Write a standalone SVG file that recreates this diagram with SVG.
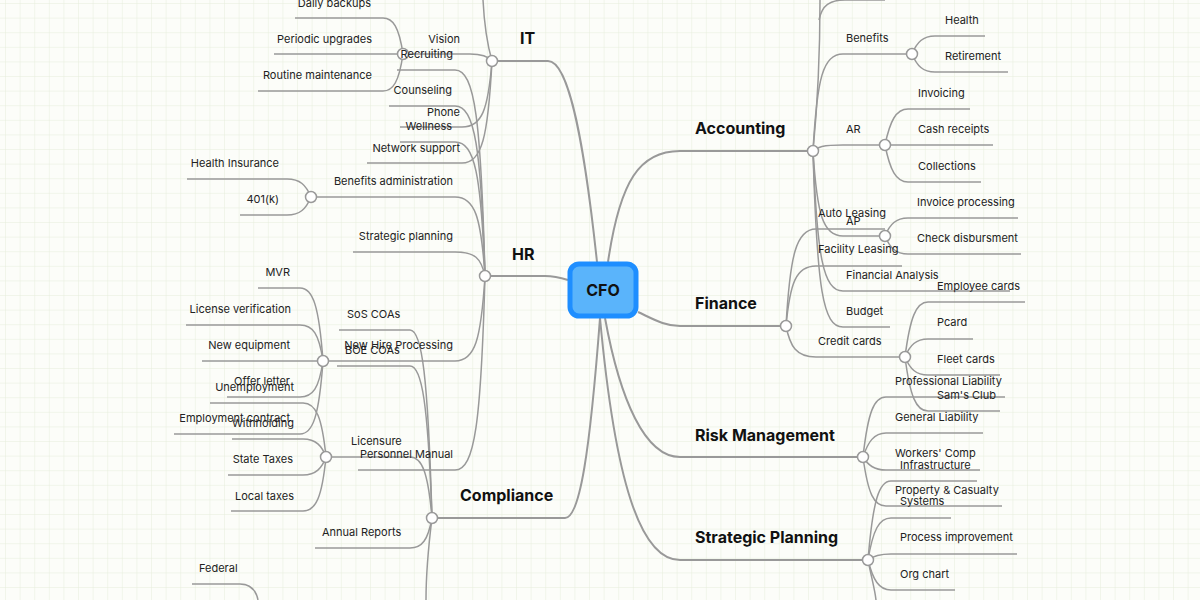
<svg xmlns="http://www.w3.org/2000/svg" width="1200" height="600" viewBox="0 0 1200 600">
<defs>
<pattern id="grid" width="14.6" height="14.6" patternUnits="userSpaceOnUse" x="6" y="4">
<path d="M14.6 0 V14.6 M0 14.6 H14.6" fill="none" stroke="#e6eddc" stroke-width="1"/>
</pattern>
</defs>
<style>
.c{fill:none;stroke:#999;stroke-width:1.5}
.m{fill:none;stroke:#999;stroke-width:2}
.n{fill:#fff;stroke:#999;stroke-width:1.5}
.t{font-family:Inter,"Liberation Sans",sans-serif;font-size:11px;fill:#222;dominant-baseline:central}
.r{text-anchor:end}
.b{font-family:Inter,"Liberation Sans",sans-serif;font-size:16px;font-weight:bold;fill:#111;dominant-baseline:central}
</style>
<rect width="1200" height="600" fill="#fcfdf9"/>
<rect width="1200" height="600" fill="url(#grid)"/>
<g id="connectors">
<path class="m" d="M597 262 C585 150 570 61 548 61 H498"/>
<path class="m" d="M568 280 C555 276 550 276 545 276 H491"/>
<path class="m" d="M600 318 C590 450 580 518 565 518 H438"/>
<path class="m" d="M608 262 C620 180 640 151 680 151 H807"/>
<path class="m" d="M638 312 C655 320 665 326 680 326 H780"/>
<path class="m" d="M605 318 C620 400 645 457 680 457 H857"/>
<path class="m" d="M600 318 C615 480 640 560 680 560 H862"/>
<path class="c" d="M492 61 C486 40 484 20 483 0"/>
<path class="c" d="M492 61 C488 56 480 54 470 54 H409"/>
<path class="c" d="M492 61 C488 110 482 127 462 127 H400"/>
<path class="c" d="M492 61 C488 137 482 163 462 163 H367"/>
<path class="c" d="M403 54 C399 27 393 18 383 18 H295"/>
<path class="c" d="M397 54 H274"/>
<path class="c" d="M403 54 C399 82 393 91 383 91 H258"/>
<path class="c" d="M485 276 C481 121 475 70 455 70 H397"/>
<path class="c" d="M485 276 C481 148 475 106 455 106 H389"/>
<path class="c" d="M485 276 C481 175 475 142 455 142 H400"/>
<path class="c" d="M485 276 C481 217 475 197 455 197 H317"/>
<path class="c" d="M485 276 C481 258 475 252 455 252 H353"/>
<path class="c" d="M485 276 C481 340 475 361 455 361 H329"/>
<path class="c" d="M485 276 C481 421 475 470 455 470 H358"/>
<path class="c" d="M311 197 C306 185 300 179 287 179 H187"/>
<path class="c" d="M311 197 C306 209 300 215 287 215 H240"/>
<path class="c" d="M323 361 C319 306 313 288 300 288 H258"/>
<path class="c" d="M323 361 C319 334 313 325 300 325 H186"/>
<path class="c" d="M317 361 H202"/>
<path class="c" d="M323 361 C319 388 313 397 300 397 H227"/>
<path class="c" d="M323 361 C319 416 313 434 300 434 H174"/>
<path class="c" d="M432 518 C428 377 422 330 410 330 H339"/>
<path class="c" d="M432 518 C428 404 422 366 410 366 H337"/>
<path class="c" d="M432 518 C428 472 422 457 410 457 H332"/>
<path class="c" d="M432 518 C428 540 422 548 410 548 H315"/>
<path class="c" d="M432 518 C428 550 426 580 426 600"/>
<path class="c" d="M326 457 C322 417 316 403 303 403 H210"/>
<path class="c" d="M326 457 C322 446 316 439 303 439 H232"/>
<path class="c" d="M326 457 C322 468 316 475 303 475 H228"/>
<path class="c" d="M326 457 C322 497 316 511 303 511 H231"/>
<path class="c" d="M192 584 H240 C250 584 256 590 258 600"/>
<path class="c" d="M813 151 C818 100 820 50 820 0"/>
<path class="c" d="M819 20 C822 5 830 0 845 0 H885"/>
<path class="c" d="M813 151 C817 78 823 54 843 54 H906"/>
<path class="c" d="M813 151 C817 147 823 145 843 145 H879"/>
<path class="c" d="M813 151 C817 215 823 236 843 236 H879"/>
<path class="c" d="M813 151 C817 256 823 291 843 291 H1010"/>
<path class="c" d="M813 151 C817 290 823 327 843 327 H890"/>
<path class="c" d="M912 54 C917 42 923 36 935 36 H985"/>
<path class="c" d="M912 54 C917 66 923 72 935 72 H1008"/>
<path class="c" d="M885 145 C890 121 896 109 908 109 H970"/>
<path class="c" d="M891 145 H993"/>
<path class="c" d="M885 145 C890 170 896 182 908 182 H981"/>
<path class="c" d="M885 236 C890 224 896 218 908 218 H1018"/>
<path class="c" d="M885 236 C890 248 896 254 908 254 H1021"/>
<path class="c" d="M786 326 C790 256 796 229 816 229 H885"/>
<path class="c" d="M786 326 C790 283 796 266 816 266 H902"/>
<path class="c" d="M786 326 C790 346 796 357 816 357 H899"/>
<path class="c" d="M905 357 C910 318 916 302 928 302 H1025"/>
<path class="c" d="M905 357 C910 345 916 339 928 339 H973"/>
<path class="c" d="M905 357 C910 369 916 375 928 375 H1000"/>
<path class="c" d="M905 357 C910 396 916 411 928 411 H1000"/>
<path class="c" d="M863 457 C868 412 874 397 886 397 H1005"/>
<path class="c" d="M863 457 C868 442 874 433 886 433 H983"/>
<path class="c" d="M863 457 C868 465 874 470 886 470 H980"/>
<path class="c" d="M863 457 C868 494 874 506 886 506 H1002"/>
<path class="c" d="M868 560 C873 500 879 481 891 481 H977"/>
<path class="c" d="M868 560 C873 530 879 518 891 518 H951"/>
<path class="c" d="M868 560 C873 556 879 554 891 554 H1017"/>
<path class="c" d="M868 560 C873 580 879 590 891 590 H955"/>
<path class="c" d="M868 560 C872 580 875 590 876 600"/>
</g>
<g id="cfo">
<rect x="570" y="264" width="66" height="52" rx="9" fill="#5ab4fb" stroke="#1e8eff" stroke-width="5"/>
<text class="b" x="603" y="290" text-anchor="middle">CFO</text>
</g>
<g id="it"><circle class="n" cx="492" cy="61" r="5.5"/><text class="b" x="520" y="38">IT</text></g>
<g id="hr"><circle class="n" cx="485" cy="276" r="5.5"/><text class="b" x="512" y="254">HR</text></g>
<g id="compliance"><circle class="n" cx="432" cy="518" r="5.5"/><text class="b" x="460" y="495">Compliance</text></g>
<g id="accounting"><circle class="n" cx="813" cy="151" r="5.5"/><text class="b" x="695" y="128">Accounting</text></g>
<g id="finance"><circle class="n" cx="786" cy="326" r="5.5"/><text class="b" x="695" y="303">Finance</text></g>
<g id="risk"><circle class="n" cx="863" cy="457" r="5.5"/><text class="b" x="695" y="435">Risk Management</text></g>
<g id="strategic"><circle class="n" cx="868" cy="560" r="5.5"/><text class="b" x="695" y="537">Strategic Planning</text></g>
<g id="it-children">
<circle class="n" cx="403" cy="54" r="5.5"/>
<text class="t r" x="371" y="3">Daily backups</text>
<text class="t r" x="372" y="39">Periodic upgrades</text>
<text class="t r" x="372" y="75">Routine maintenance</text>
<text class="t r" x="460" y="39">Vision</text>
<text class="t r" x="460" y="112">Phone</text>
<text class="t r" x="460" y="148">Network support</text>
</g>
<g id="hr-children">
<text class="t r" x="453" y="54">Recruiting</text>
<text class="t r" x="452" y="90">Counseling</text>
<text class="t r" x="452" y="126">Wellness</text>
<text class="t r" x="453" y="181">Benefits administration</text>
<circle class="n" cx="311" cy="197" r="5.5"/>
<text class="t r" x="279" y="163">Health Insurance</text>
<text class="t r" x="279" y="199">401(k)</text>
<text class="t r" x="453" y="236">Strategic planning</text>
<text class="t r" x="453" y="345">New Hire Processing</text>
<circle class="n" cx="323" cy="361" r="5.5"/>
<text class="t r" x="290" y="272">MVR</text>
<text class="t r" x="291" y="309">License verification</text>
<text class="t r" x="290" y="345">New equipment</text>
<text class="t r" x="290" y="381">Offer letter</text>
<text class="t r" x="290" y="418">Employment contract</text>
<text class="t r" x="453" y="454">Personnel Manual</text>
</g>
<g id="compliance-children">
<text class="t" x="347" y="314">SoS COAs</text>
<text class="t" x="345" y="350">BOE COAs</text>
<text class="t" x="351" y="441">Licensure</text>
<circle class="n" cx="326" cy="457" r="5.5"/>
<text class="t r" x="294" y="387">Unemployment</text>
<text class="t r" x="294" y="423">Withholding</text>
<text class="t r" x="293" y="459">State Taxes</text>
<text class="t r" x="294" y="496">Local taxes</text>
<text class="t" x="322" y="532">Annual Reports</text>
<text class="t" x="199" y="568">Federal</text>
</g>
<g id="accounting-children">
<text class="t" x="846" y="38">Benefits</text>
<circle class="n" cx="912" cy="54" r="5.5"/>
<text class="t" x="945" y="20">Health</text>
<text class="t" x="945" y="56">Retirement</text>
<text class="t" x="846" y="129">AR</text>
<circle class="n" cx="885" cy="145" r="5.5"/>
<text class="t" x="918" y="93">Invoicing</text>
<text class="t" x="918" y="129">Cash receipts</text>
<text class="t" x="918" y="166">Collections</text>
<text class="t" x="846" y="221">AP</text>
<circle class="n" cx="885" cy="236" r="5.5"/>
<text class="t" x="917" y="202">Invoice processing</text>
<text class="t" x="917" y="238">Check disbursment</text>
<text class="t" x="846" y="275">Financial Analysis</text>
<text class="t" x="846" y="311">Budget</text>
</g>
<g id="finance-children">
<text class="t" x="818" y="213">Auto Leasing</text>
<text class="t" x="818" y="249">Facility Leasing</text>
<text class="t" x="818" y="341">Credit cards</text>
<circle class="n" cx="905" cy="357" r="5.5"/>
<text class="t" x="937" y="286">Employee cards</text>
<text class="t" x="937" y="322">Pcard</text>
<text class="t" x="937" y="359">Fleet cards</text>
<text class="t" x="937" y="395">Sam's Club</text>
</g>
<g id="risk-children">
<text class="t" x="895" y="381">Professional Liability</text>
<text class="t" x="895" y="417">General Liability</text>
<text class="t" x="895" y="453">Workers' Comp</text>
<text class="t" x="895" y="490">Property &amp; Casualty</text>
</g>
<g id="strategic-children">
<text class="t" x="900" y="465">Infrastructure</text>
<text class="t" x="900" y="501">Systems</text>
<text class="t" x="900" y="537">Process improvement</text>
<text class="t" x="900" y="574">Org chart</text>
</g>
</svg>
